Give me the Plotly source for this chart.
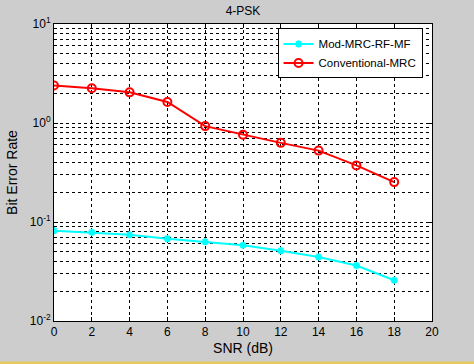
import plotly.graph_objects as go

snr = [0, 2, 4, 6, 8, 10, 12, 14, 16, 18]
mod_mrc = [0.0817, 0.0787, 0.0745, 0.0678, 0.0633, 0.0582, 0.0513, 0.0443, 0.0363, 0.0258]
conv_mrc = [2.39, 2.24, 2.04, 1.63, 0.93, 0.76, 0.63, 0.526, 0.373, 0.253]
ytick_vals = [0.01, 0.1, 1, 10]
ytick_text = ["10<sup>-2</sup>", "10<sup>-1</sup>", "10<sup>0</sup>", "10<sup>1</sup>"]
xtick_vals = [0, 2, 4, 6, 8, 10, 12, 14, 16, 18, 20]

fig = go.Figure()
fig.add_trace(go.Scatter(x=snr, y=mod_mrc, mode="lines+markers", name="Mod-MRC-RF-MF",
                         line=dict(color="#00ffff", width=2),
                         marker=dict(symbol="asterisk", size=6, color="#00ffff",
                                     line=dict(color="#00ffff", width=2))))
fig.add_trace(go.Scatter(x=snr, y=conv_mrc, mode="lines+markers", name="Conventional-MRC",
                         line=dict(color="#ff0000", width=2),
                         marker=dict(symbol="circle-open", size=8, color="#ff0000",
                                     line=dict(color="#ff0000", width=2))))

font = dict(family="Liberation Sans, Arial, sans-serif", size=12, color="black")
fig.update_layout(
    width=474, height=364,
    margin=dict(l=54, r=42, t=24, b=43, autoexpand=False),
    paper_bgcolor="#cdcdcd", plot_bgcolor="white",
    font=font,
    title=dict(text="4-PSK", x=0.5, xref="paper", y=1 - 11 / 364, yanchor="middle", font=dict(size=12)),
    showlegend=True,
    legend=dict(x=0.975, y=0.985, xanchor="right", yanchor="top",
                bgcolor="white", bordercolor="black", borderwidth=1,
                font=dict(size=11.5), tracegroupgap=0, itemwidth=30),
    xaxis=dict(range=[0, 20], tickvals=xtick_vals, showgrid=True, automargin=False,
               gridcolor="black", griddash="dot", gridwidth=1,
               showline=True, linecolor="black", linewidth=1, mirror="ticks",
               ticks="inside", ticklen=4, tickcolor="black", zeroline=False,
               title=dict(text="SNR (dB)", standoff=4)),
    yaxis=dict(type="log", range=[-2, 1], tickvals=ytick_vals, ticktext=ytick_text,
               automargin=False,
               showgrid=True, gridcolor="black", griddash="dot", gridwidth=1,
               showline=True, linecolor="black", linewidth=1, mirror="ticks",
               ticks="inside", ticklen=4, tickcolor="black", zeroline=False,
               minor=dict(showgrid=True, gridcolor="black", griddash="dot", gridwidth=1,
                          dtick="D1", ticks=""),
               title=dict(text="Bit Error Rate", standoff=8)),
)
ph = 364 - 24 - 43
fig.add_shape(type="rect", xref="paper", yref="paper", x0=-0.2, x1=1.2,
              y0=-(43 - 2.5) / ph, y1=-(43 + 2) / ph, fillcolor="#e8c860",
              line=dict(width=0), layer="above")
fig.write_html("out.html", config={"displayModeBar": False},
               post_script="document.body.style.margin='0';")
